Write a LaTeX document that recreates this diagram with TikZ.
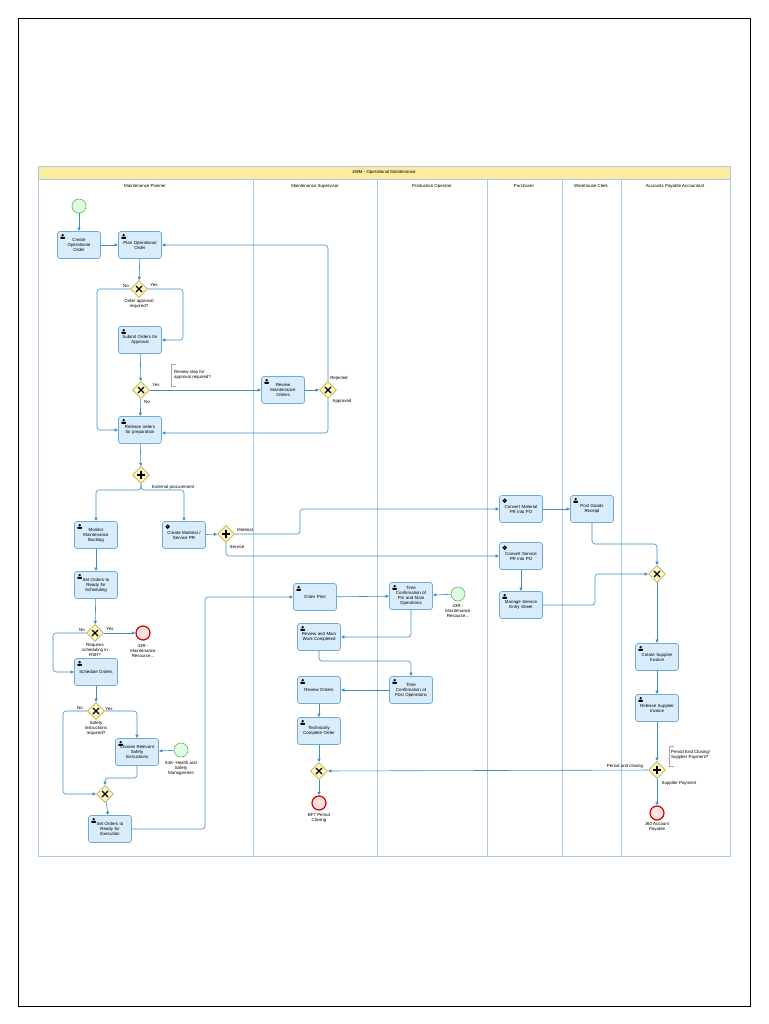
\documentclass[tikz,border=0pt]{standalone}
\usepackage{fontspec}
\setmainfont{Liberation Sans}
\usetikzlibrary{shapes.geometric,arrows.meta}
\definecolor{tfill}{HTML}{D8ECFB}
\definecolor{tdraw}{HTML}{6FAAD8}
\definecolor{eclr}{HTML}{3A8DC5}
\definecolor{lane}{HTML}{A9CBE8}
\definecolor{gfill}{HTML}{FFF7C6}
\definecolor{gdraw}{HTML}{C2AE4E}
\definecolor{hdr}{HTML}{FDEBA0}
\tikzset{
 x=1pt,y=-1pt,
 txt/.style={font=\fontsize{4.4}{5}\selectfont,align=center,inner sep=0},
 task/.style={txt,draw=tdraw,fill=tfill,rounded corners=2.5,line width=0.7,minimum width=43,minimum height=27,text width=41},
 gw/.style={diamond,draw=gdraw,fill=gfill,line width=0.6,minimum size=17,inner sep=0},
 sev/.style={circle,draw=green!50!black!60,fill=green!12,line width=0.6,minimum size=14,inner sep=0},
 eev/.style={circle,draw=red!80!black,fill=red!12,line width=1.2,minimum size=14,inner sep=0},
 flow/.style={draw=eclr,line width=0.6,rounded corners=3,-{Latex[length=3.5,width=3.5]}},
}
\newcommand\utask[4]{\node[task] (#1) at (#2,#3) {#4};
 \fill ([shift={(5.5,4)}]#1.north west) circle (1.3);
 \fill[rounded corners=0.5] ([shift={(3.3,5.6)}]#1.north west) rectangle ([shift={(7.7,7.6)}]#1.north west);}
\newcommand\stask[4]{\node[task] (#1) at (#2,#3) {#4};
 \draw[line width=1.1] ([shift={(5.5,5.5)}]#1.north west) circle (1.5);}
\newcommand\xgw[3]{\node[gw] (#1) at (#2,#3) {};
 \draw[line width=1.3] ([shift={(-3,-3)}]#1.center) -- ([shift={(3,3)}]#1.center) ([shift={(-3,3)}]#1.center) -- ([shift={(3,-3)}]#1.center);}
\newcommand\pgw[3]{\node[gw] (#1) at (#2,#3) {};
 \draw[line width=1.3] ([shift={(-4,0)}]#1.center) -- ([shift={(4,0)}]#1.center) ([shift={(0,-4)}]#1.center) -- ([shift={(0,4)}]#1.center);}
\begin{document}
\begin{tikzpicture}
\useasboundingbox (0,0) rectangle (768,1024);
\draw[line width=0.6] (18,18) rectangle (750,1006);
% pool
\fill[hdr] (38,166) rectangle (730,179);
\draw[lane,line width=0.8] (38,166) rectangle (730,856) (38,179) -- (730,179);
\foreach \xx in {253,377,487,562,621} \draw[lane,line width=1] (\xx,179) -- (\xx,856);
\node[txt] (title) at (384,172.5) {4WM - Operational Maintenance};
\node[txt] (l1) at (145,186) {Maintenance Planner};
\node[txt] (l2) at (315,186) {Maintenance Supervisor};
\node[txt] (l3) at (432,186) {Production Operator};
\node[txt] (l4) at (524,186) {Purchaser};
\node[txt] (l5) at (591,186) {Warehouse Clerk};
\node[txt] (l6) at (675,186) {Accounts Payable Accountant};
% nodes
\node[sev] (s1) at (79,206) {};
\utask{cro}{79}{245}{Create\\Operational\\Order}
\utask{plan}{140}{245}{Plan Operational\\Order}
\xgw{g1}{139}{289}
\node[txt] (g1l) at (139,304) {Order approval\\required?};
\utask{sub}{140}{340}{Submit Orders for\\Approval}
\xgw{g2}{141}{390}
\draw[gray!70,line width=0.5] (176,364) -- (171,364) -- (171,386) -- (176,386);
\node[txt,align=left,anchor=west] (ann1) at (174,375) {Review step for\\approval required?};
\utask{rmo}{283}{390}{Review\\Maintenance\\Orders}
\xgw{g3}{328}{390}
\utask{rel}{140}{430}{Release orders\\for preparation}
\pgw{g4}{141}{475}
\node[txt,anchor=west] (g4l) at (152,487) {External procurement};
\utask{mon}{96}{535}{Monitor\\Maintenance\\Backlog}
\stask{cpr}{184}{535}{Create Material /\\Service PR}
\pgw{g5}{226}{534}
\utask{srs}{96}{585}{Set Orders to\\Ready for\\Scheduling}
\xgw{g6}{95}{633}
\node[txt] (g6l) at (95,650) {Requires\\scheduling in\\RSH?};
\node[eev] (e1) at (143,633) {};
\node[txt] (e1l) at (143,651) {43R -\\Maintenance\\Resource...};
\utask{sch}{96}{672}{Schedule Orders}
\xgw{g7}{96}{711}
\node[txt] (g7l) at (96,728) {Safety\\instructions\\required?};
\utask{cho}{137}{752}{Choose Relevant\\Safety\\Instructions}
\node[sev] (s2) at (181,750) {};
\node[txt] (s2l) at (181,768) {54A- Health and\\Safety\\Management};
\xgw{g8}{105}{794}
\utask{sre}{110}{829}{Set Orders to\\Ready for\\Execution}
\utask{op}{315}{597}{Order Print}
\utask{tc1}{411}{596}{Time\\Confirmation of\\Pm and Main\\Operations}
\node[sev] (s3) at (458,594) {};
\node[txt] (s3l) at (458,611) {43R -\\Maintenance\\Resource...};
\utask{rmw}{319}{637}{Review and Main\\Work Completed}
\utask{tc2}{411}{690}{Time\\Confirmation of\\Post Operations}
\utask{ro}{319}{690}{Review Orders}
\utask{tco}{319}{731}{Technically\\Complete Order}
\xgw{g9}{319}{771}
\node[eev] (e2) at (319,803) {};
\node[txt] (e2l) at (319,818) {BF7 Period\\Closing};
\stask{cmp}{521}{509}{Convert Material\\PR into PO}
\utask{pgr}{592}{509}{Post Goods\\Receipt}
\stask{csp}{521}{556}{Convert Service\\PR into PO}
\utask{mse}{521}{605}{Manage Service\\Entry Sheet}
\xgw{g10}{657}{574}
\utask{csi}{657}{657}{Create Supplier\\Invoice}
\utask{rsi}{657}{708}{Release Supplier\\Invoice}
\pgw{g11}{657}{770}
\draw[gray!70,line width=0.5] (674,746) -- (669,746) -- (669,766) -- (674,766);
\draw[gray!70,dotted,line width=0.5] (669,756) -- (665,766);
\node[txt,align=left,anchor=west] (ann2) at (671,755) {Period End Closing/\\Supplier Payment?};
\node[eev] (e3) at (657,813) {};
\node[txt] (e3l) at (657,827) {J60 Account\\Payable};
% labels
\node[txt] (t1) at (126,286) {No};
\node[txt] (t2) at (154,285) {Yes};
\node[txt] (t3) at (156,385) {Yes};
\node[txt] (t4) at (147,402) {No};
\node[txt] (t5) at (339,378) {Rejected};
\node[txt] (t6) at (342,401) {Approved};
\node[txt] (t7) at (245,530) {Material};
\node[txt] (t8) at (237,547) {Service};
\node[txt] (t9) at (82,630) {No};
\node[txt] (t10) at (110,629) {Yes};
\node[txt] (t11) at (80,708) {No};
\node[txt] (t12) at (109,709) {Yes};
\node[txt] (t13) at (625,766) {Period and closing};
\node[txt] (t14) at (679,783) {Supplier Payment};
% flows
\draw[flow] (s1) -- (cro);
\draw[flow] (cro) -- (plan);
\draw[flow] (plan) -- (g1);
\draw[flow] (g1.east) -| (183,320) |- (sub.east);
\draw[flow] (g1.west) -| (97,360) |- (rel.west);
\draw[flow] (sub) -- (g2);
\draw[flow] (g2) -- (rel);
\draw[flow] (g2) -- (rmo);
\draw[flow] (rmo) -- (g3);
\draw[flow] (g3.north) |- (plan.east);
\draw[flow] (g3.south) |- ([yshift=-3]rel.east);
\draw[flow] (rel) -- (g4);
\draw[flow] (g4.south) |- (120,490) -| (mon.north);
\draw[flow] (g4.south) |- (160,490) -| (cpr.north);
\draw[flow] (mon) -- (srs);
\draw[flow] (srs) -- (g6);
\draw[flow] (g6) -- (e1);
\draw[flow] (g6.west) -| (53,650) |- (sch.west);
\draw[flow] (sch) -- (g7);
\draw[flow] (g7.east) -| (cho.north);
\draw[flow] (g7.west) -| (63,750) |- (g8.west);
\draw[flow] (cho.south) |- (120,778) -| (g8.north);
\draw[flow] (s2) -- (cho);
\draw[flow] (g8) -- (sre);
\draw[flow] (sre.east) -| (205,700) |- (op.west);
\draw[flow] (cpr) -- (g5);
\draw[flow] (g5.east) -| (300,520) |- (cmp.west);
\draw[flow] (g5.south) |- (csp.west);
\draw[flow] (cmp) -- (pgr);
\draw[flow] (pgr.south) |- (620,544) -| (g10.north);
\draw[flow] (csp) -- (mse);
\draw[flow] (mse.east) -| (595,590) |- (g10.west);
\draw[flow] (g10) -- (csi);
\draw[flow] (csi) -- (rsi);
\draw[flow] (rsi) -- (g11);
\draw[flow] (g11) -- (g9);
\draw[flow] (g11) -- (e3);
\draw[flow] (op) -- (tc1);
\draw[flow] (s3) -- (tc1);
\draw[flow] (tc1.south) |- (rmw.east);
\draw[flow] (rmw.south) |- (370,661) -| (tc2.north);
\draw[flow] (tc2) -- (ro);
\draw[flow] (ro) -- (tco);
\draw[flow] (tco) -- (g9);
\draw[flow] (g9) -- (e2);
\end{tikzpicture}
\end{document}
